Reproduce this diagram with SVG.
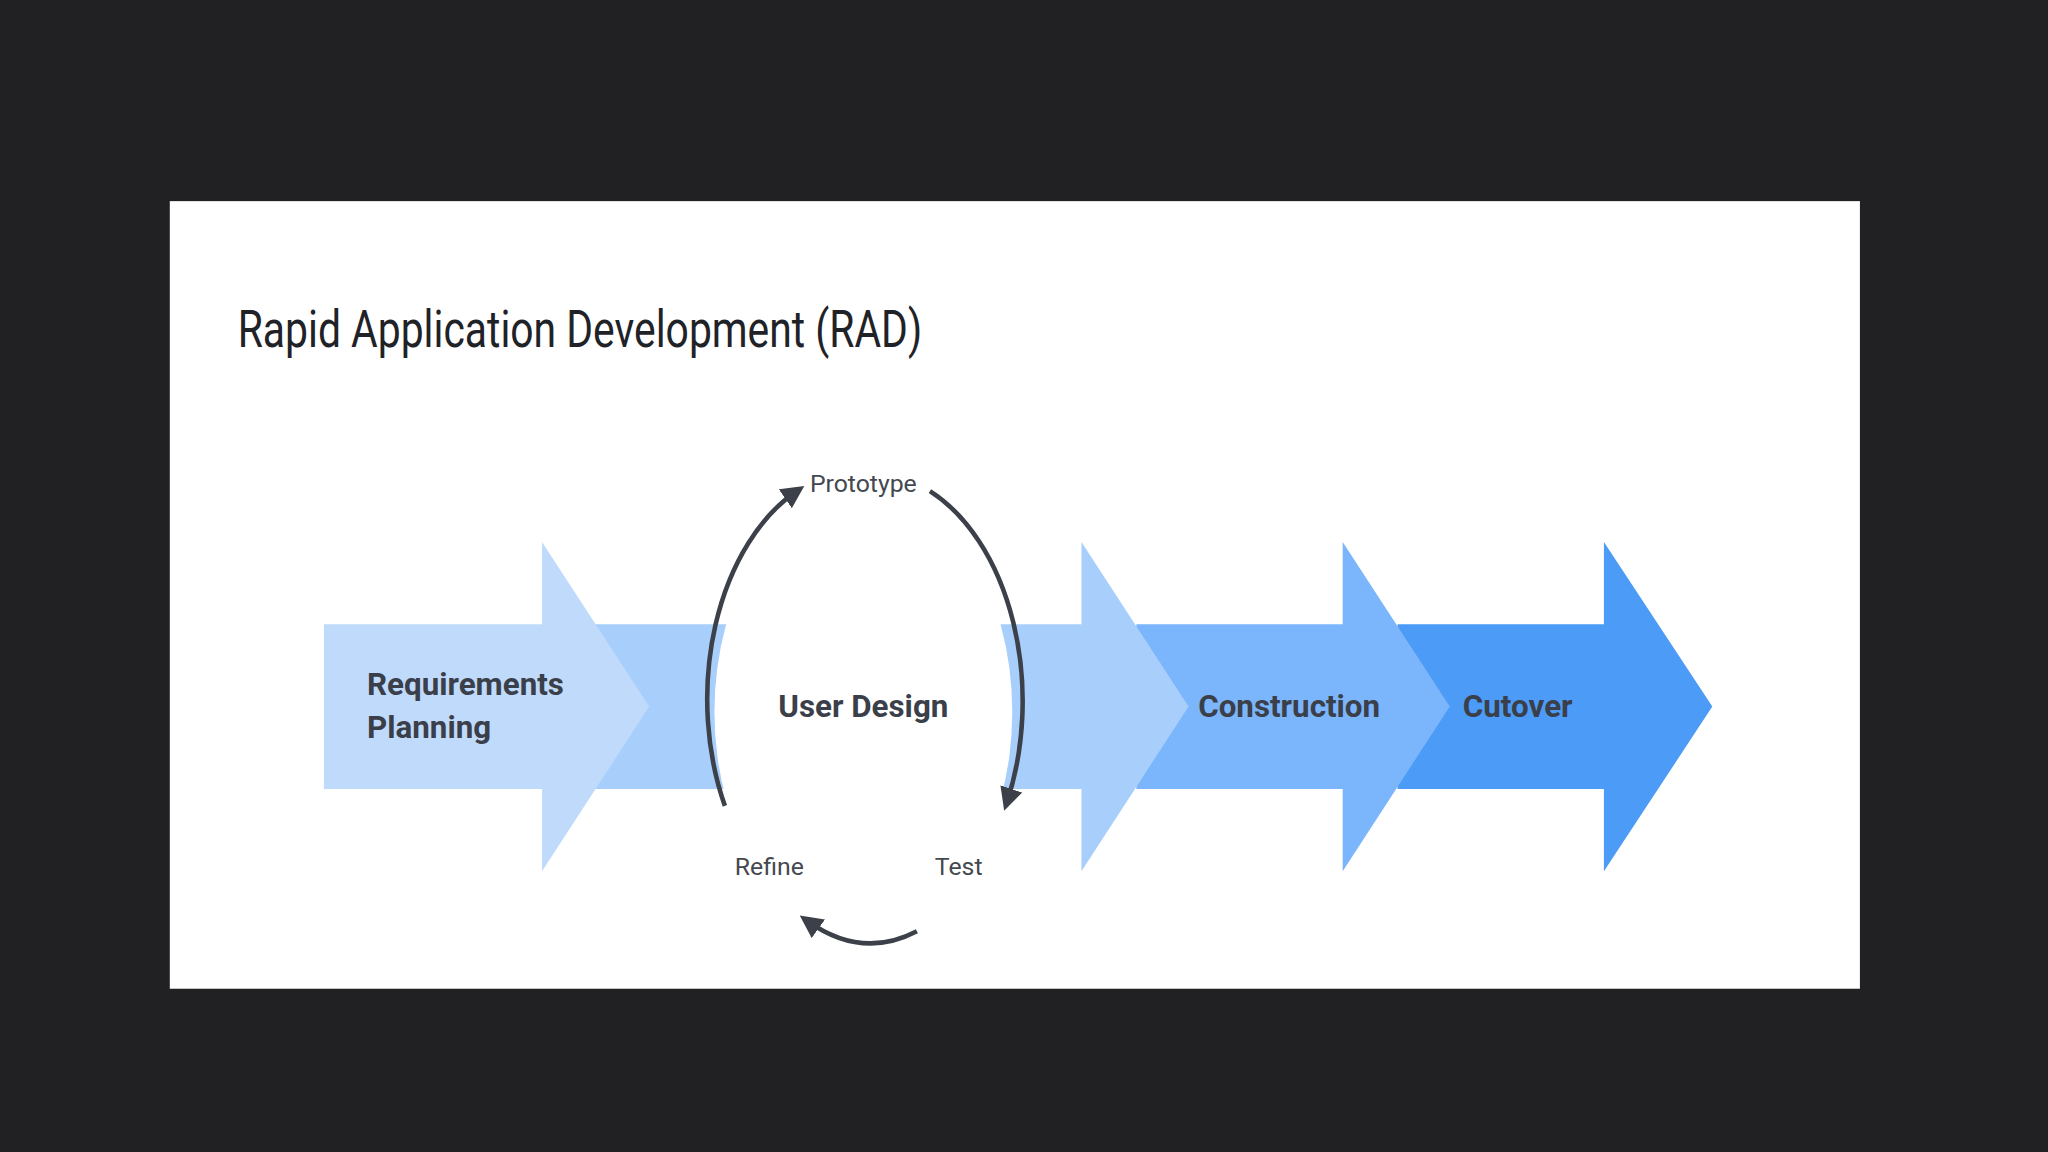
<svg xmlns="http://www.w3.org/2000/svg" width="2048" height="1152" viewBox="0 0 2048 1152">
<defs>
<style>
.lbl{font-family:Roboto,"Liberation Sans",sans-serif;font-weight:bold;font-size:24px;fill:#3a3f4a}
.sm{font-family:Roboto,"Liberation Sans",sans-serif;font-size:19px;fill:#444950}
.arc{fill:none;stroke:#3c4049;stroke-width:3.5;marker-end:url(#ah)}
</style>
<marker id="ah" viewBox="0 0 10 10" refX="6" refY="5" markerWidth="5" markerHeight="5" orient="auto" markerUnits="strokeWidth">
<path d="M0,0 L10,5 L0,10 Z" fill="#3c4049"/>
</marker>
</defs>
<rect width="2048" height="1152" fill="#212123"/>
<g transform="scale(1.30612)">
<rect x="130" y="154" width="1294" height="603" fill="#ffffff"/>
<text x="182" y="266" font-family="Roboto,'Liberation Sans',sans-serif" font-size="40" fill="#1f2328" textLength="524" lengthAdjust="spacingAndGlyphs">Rapid Application Development (RAD)</text>
<g id="cutover"><polygon points="1070,478 1228,478 1228,415 1311,541 1228,667 1228,604 1070,604" fill="#4b9bf7"/><text class="lbl" x="1162" y="549" text-anchor="middle">Cutover</text></g>
<g id="construction"><polygon points="870,478 1028,478 1028,415 1110,541 1028,667 1028,604 870,604" fill="#7bb5fb"/><text class="lbl" x="987" y="549" text-anchor="middle">Construction</text></g>
<g id="userdesign-arrow"><polygon points="455,478 828,478 828,415 910,541 828,667 828,604 455,604" fill="#a8cffc"/></g>
<g id="requirements"><polygon points="248,478 415,478 415,415 497,541 415,667 415,604 248,604" fill="#c0dafc"/><text class="lbl" x="281" y="532">Requirements</text><text class="lbl" x="281" y="565">Planning</text></g>
<g id="userdesign"><ellipse cx="661" cy="545" rx="114" ry="172" fill="#ffffff"/><text class="lbl" x="661" y="549" text-anchor="middle">User Design</text></g>
<g id="connectors">
<path class="arc" d="M555,617 A117,175 0 0 1 610,376"/>
<path class="arc" d="M712,376 A117,175 0 0 1 771,614"/>
<path class="arc" d="M702,713 Q660,735 618,705"/>
</g>
<g id="labels">
<text class="sm" x="661" y="377" text-anchor="middle">Prototype</text>
<text class="sm" x="589" y="670" text-anchor="middle">Refine</text>
<text class="sm" x="734" y="670" text-anchor="middle">Test</text>
</g>
</g>
</svg>
